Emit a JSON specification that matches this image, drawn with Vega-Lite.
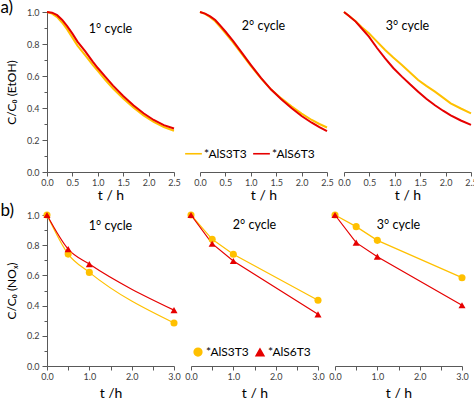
{
  "$schema": "https://vega.github.io/schema/vega-lite/v6.json",
  "padding": {"left": 0, "top": -1, "right": 0, "bottom": 0},
  "background": "white",
  "spacing": 0,
  "config": {
    "font": "Lato",
    "view": {"stroke": null},
    "axis": {
      "grid": false,
      "labelFont": "Lato",
      "labelFontSize": 9,
      "labelColor": "#404040",
      "titleFont": "Lato",
      "titleFontWeight": "normal",
      "titleColor": "#000000",
      "domainColor": "#595959",
      "tickColor": "#595959",
      "labelFlush": false,
      "labelOverlap": false
    },
    "title": {"font": "Lato", "fontWeight": "normal", "color": "#000000"},
    "legend": {"labelFont": "Lato", "labelFontSize": 12, "labelColor": "#000000"}
  },
  "datasets": {
    "etoh": [
      {"cycle": "1", "sample": "*AlS3T3", "t": 0, "c": 1.0},
      {"cycle": "1", "sample": "*AlS3T3", "t": 0.1, "c": 0.99},
      {"cycle": "1", "sample": "*AlS3T3", "t": 0.2, "c": 0.968},
      {"cycle": "1", "sample": "*AlS3T3", "t": 0.3, "c": 0.933},
      {"cycle": "1", "sample": "*AlS3T3", "t": 0.4, "c": 0.89},
      {"cycle": "1", "sample": "*AlS3T3", "t": 0.5, "c": 0.84},
      {"cycle": "1", "sample": "*AlS3T3", "t": 0.6, "c": 0.79},
      {"cycle": "1", "sample": "*AlS3T3", "t": 0.75, "c": 0.73},
      {"cycle": "1", "sample": "*AlS3T3", "t": 0.9, "c": 0.67},
      {"cycle": "1", "sample": "*AlS3T3", "t": 1.0, "c": 0.632},
      {"cycle": "1", "sample": "*AlS3T3", "t": 1.15, "c": 0.575},
      {"cycle": "1", "sample": "*AlS3T3", "t": 1.3, "c": 0.522},
      {"cycle": "1", "sample": "*AlS3T3", "t": 1.5, "c": 0.46},
      {"cycle": "1", "sample": "*AlS3T3", "t": 1.7, "c": 0.404},
      {"cycle": "1", "sample": "*AlS3T3", "t": 1.9, "c": 0.354},
      {"cycle": "1", "sample": "*AlS3T3", "t": 2.1, "c": 0.313},
      {"cycle": "1", "sample": "*AlS3T3", "t": 2.3, "c": 0.281},
      {"cycle": "1", "sample": "*AlS3T3", "t": 2.5, "c": 0.258},
      {"cycle": "1", "sample": "*AlS6T3", "t": 0, "c": 1.0},
      {"cycle": "1", "sample": "*AlS6T3", "t": 0.1, "c": 0.996},
      {"cycle": "1", "sample": "*AlS6T3", "t": 0.2, "c": 0.98},
      {"cycle": "1", "sample": "*AlS6T3", "t": 0.3, "c": 0.95},
      {"cycle": "1", "sample": "*AlS6T3", "t": 0.4, "c": 0.91},
      {"cycle": "1", "sample": "*AlS6T3", "t": 0.5, "c": 0.865},
      {"cycle": "1", "sample": "*AlS6T3", "t": 0.6, "c": 0.815},
      {"cycle": "1", "sample": "*AlS6T3", "t": 0.75, "c": 0.755},
      {"cycle": "1", "sample": "*AlS6T3", "t": 0.9, "c": 0.69},
      {"cycle": "1", "sample": "*AlS6T3", "t": 1.0, "c": 0.65},
      {"cycle": "1", "sample": "*AlS6T3", "t": 1.15, "c": 0.595},
      {"cycle": "1", "sample": "*AlS6T3", "t": 1.3, "c": 0.54},
      {"cycle": "1", "sample": "*AlS6T3", "t": 1.5, "c": 0.475},
      {"cycle": "1", "sample": "*AlS6T3", "t": 1.7, "c": 0.417},
      {"cycle": "1", "sample": "*AlS6T3", "t": 1.9, "c": 0.367},
      {"cycle": "1", "sample": "*AlS6T3", "t": 2.1, "c": 0.325},
      {"cycle": "1", "sample": "*AlS6T3", "t": 2.3, "c": 0.293},
      {"cycle": "1", "sample": "*AlS6T3", "t": 2.5, "c": 0.272},
      {"cycle": "2", "sample": "*AlS3T3", "t": 0, "c": 1.0},
      {"cycle": "2", "sample": "*AlS3T3", "t": 0.1, "c": 0.988},
      {"cycle": "2", "sample": "*AlS3T3", "t": 0.2, "c": 0.968},
      {"cycle": "2", "sample": "*AlS3T3", "t": 0.3, "c": 0.942},
      {"cycle": "2", "sample": "*AlS3T3", "t": 0.4, "c": 0.906},
      {"cycle": "2", "sample": "*AlS3T3", "t": 0.5, "c": 0.868},
      {"cycle": "2", "sample": "*AlS3T3", "t": 0.65, "c": 0.81},
      {"cycle": "2", "sample": "*AlS3T3", "t": 0.8, "c": 0.747},
      {"cycle": "2", "sample": "*AlS3T3", "t": 1.0, "c": 0.664},
      {"cycle": "2", "sample": "*AlS3T3", "t": 1.2, "c": 0.585},
      {"cycle": "2", "sample": "*AlS3T3", "t": 1.4, "c": 0.515},
      {"cycle": "2", "sample": "*AlS3T3", "t": 1.6, "c": 0.46},
      {"cycle": "2", "sample": "*AlS3T3", "t": 1.8, "c": 0.41},
      {"cycle": "2", "sample": "*AlS3T3", "t": 2.0, "c": 0.365},
      {"cycle": "2", "sample": "*AlS3T3", "t": 2.2, "c": 0.325},
      {"cycle": "2", "sample": "*AlS3T3", "t": 2.35, "c": 0.3},
      {"cycle": "2", "sample": "*AlS3T3", "t": 2.5, "c": 0.278},
      {"cycle": "2", "sample": "*AlS6T3", "t": 0, "c": 1.0},
      {"cycle": "2", "sample": "*AlS6T3", "t": 0.1, "c": 0.99},
      {"cycle": "2", "sample": "*AlS6T3", "t": 0.2, "c": 0.973},
      {"cycle": "2", "sample": "*AlS6T3", "t": 0.3, "c": 0.95},
      {"cycle": "2", "sample": "*AlS6T3", "t": 0.4, "c": 0.915},
      {"cycle": "2", "sample": "*AlS6T3", "t": 0.5, "c": 0.878},
      {"cycle": "2", "sample": "*AlS6T3", "t": 0.65, "c": 0.82},
      {"cycle": "2", "sample": "*AlS6T3", "t": 0.8, "c": 0.755},
      {"cycle": "2", "sample": "*AlS6T3", "t": 1.0, "c": 0.67},
      {"cycle": "2", "sample": "*AlS6T3", "t": 1.2, "c": 0.588},
      {"cycle": "2", "sample": "*AlS6T3", "t": 1.4, "c": 0.515},
      {"cycle": "2", "sample": "*AlS6T3", "t": 1.6, "c": 0.455},
      {"cycle": "2", "sample": "*AlS6T3", "t": 1.8, "c": 0.4},
      {"cycle": "2", "sample": "*AlS6T3", "t": 2.0, "c": 0.35},
      {"cycle": "2", "sample": "*AlS6T3", "t": 2.2, "c": 0.308},
      {"cycle": "2", "sample": "*AlS6T3", "t": 2.35, "c": 0.28},
      {"cycle": "2", "sample": "*AlS6T3", "t": 2.5, "c": 0.255},
      {"cycle": "3", "sample": "*AlS3T3", "t": 0, "c": 1.0},
      {"cycle": "3", "sample": "*AlS3T3", "t": 0.1, "c": 0.975},
      {"cycle": "3", "sample": "*AlS3T3", "t": 0.23, "c": 0.942},
      {"cycle": "3", "sample": "*AlS3T3", "t": 0.35, "c": 0.905},
      {"cycle": "3", "sample": "*AlS3T3", "t": 0.49, "c": 0.867},
      {"cycle": "3", "sample": "*AlS3T3", "t": 0.65, "c": 0.815},
      {"cycle": "3", "sample": "*AlS3T3", "t": 0.81, "c": 0.763},
      {"cycle": "3", "sample": "*AlS3T3", "t": 0.97, "c": 0.715},
      {"cycle": "3", "sample": "*AlS3T3", "t": 1.14, "c": 0.669},
      {"cycle": "3", "sample": "*AlS3T3", "t": 1.3, "c": 0.622},
      {"cycle": "3", "sample": "*AlS3T3", "t": 1.46, "c": 0.575},
      {"cycle": "3", "sample": "*AlS3T3", "t": 1.62, "c": 0.538},
      {"cycle": "3", "sample": "*AlS3T3", "t": 1.79, "c": 0.502},
      {"cycle": "3", "sample": "*AlS3T3", "t": 1.95, "c": 0.465},
      {"cycle": "3", "sample": "*AlS3T3", "t": 2.1, "c": 0.429},
      {"cycle": "3", "sample": "*AlS3T3", "t": 2.3, "c": 0.397},
      {"cycle": "3", "sample": "*AlS3T3", "t": 2.5, "c": 0.367},
      {"cycle": "3", "sample": "*AlS6T3", "t": 0, "c": 1.0},
      {"cycle": "3", "sample": "*AlS6T3", "t": 0.1, "c": 0.975},
      {"cycle": "3", "sample": "*AlS6T3", "t": 0.23, "c": 0.94},
      {"cycle": "3", "sample": "*AlS6T3", "t": 0.35, "c": 0.897},
      {"cycle": "3", "sample": "*AlS6T3", "t": 0.49, "c": 0.846},
      {"cycle": "3", "sample": "*AlS6T3", "t": 0.65, "c": 0.775},
      {"cycle": "3", "sample": "*AlS6T3", "t": 0.81, "c": 0.71},
      {"cycle": "3", "sample": "*AlS6T3", "t": 0.97, "c": 0.65},
      {"cycle": "3", "sample": "*AlS6T3", "t": 1.14, "c": 0.596},
      {"cycle": "3", "sample": "*AlS6T3", "t": 1.3, "c": 0.548},
      {"cycle": "3", "sample": "*AlS6T3", "t": 1.46, "c": 0.502},
      {"cycle": "3", "sample": "*AlS6T3", "t": 1.62, "c": 0.458},
      {"cycle": "3", "sample": "*AlS6T3", "t": 1.79, "c": 0.417},
      {"cycle": "3", "sample": "*AlS6T3", "t": 1.95, "c": 0.383},
      {"cycle": "3", "sample": "*AlS6T3", "t": 2.1, "c": 0.354},
      {"cycle": "3", "sample": "*AlS6T3", "t": 2.3, "c": 0.322},
      {"cycle": "3", "sample": "*AlS6T3", "t": 2.5, "c": 0.294}
    ],
    "nox": [
      {"cycle": "1", "sample": "*AlS3T3", "t": 0, "c": 1.0},
      {"cycle": "1", "sample": "*AlS3T3", "t": 0.5, "c": 0.741},
      {"cycle": "1", "sample": "*AlS3T3", "t": 1, "c": 0.62},
      {"cycle": "1", "sample": "*AlS3T3", "t": 3, "c": 0.285},
      {"cycle": "1", "sample": "*AlS6T3", "t": 0, "c": 1.0},
      {"cycle": "1", "sample": "*AlS6T3", "t": 0.5, "c": 0.774},
      {"cycle": "1", "sample": "*AlS6T3", "t": 1, "c": 0.675},
      {"cycle": "1", "sample": "*AlS6T3", "t": 3, "c": 0.37},
      {"cycle": "2", "sample": "*AlS3T3", "t": 0, "c": 1.0},
      {"cycle": "2", "sample": "*AlS3T3", "t": 0.5, "c": 0.839},
      {"cycle": "2", "sample": "*AlS3T3", "t": 1, "c": 0.74},
      {"cycle": "2", "sample": "*AlS3T3", "t": 3, "c": 0.435},
      {"cycle": "2", "sample": "*AlS6T3", "t": 0, "c": 1.0},
      {"cycle": "2", "sample": "*AlS6T3", "t": 0.5, "c": 0.81},
      {"cycle": "2", "sample": "*AlS6T3", "t": 1, "c": 0.695},
      {"cycle": "2", "sample": "*AlS6T3", "t": 3, "c": 0.342},
      {"cycle": "3", "sample": "*AlS3T3", "t": 0, "c": 1.0},
      {"cycle": "3", "sample": "*AlS3T3", "t": 0.5, "c": 0.923},
      {"cycle": "3", "sample": "*AlS3T3", "t": 1, "c": 0.832},
      {"cycle": "3", "sample": "*AlS3T3", "t": 3, "c": 0.585},
      {"cycle": "3", "sample": "*AlS6T3", "t": 0, "c": 1.0},
      {"cycle": "3", "sample": "*AlS6T3", "t": 0.5, "c": 0.817},
      {"cycle": "3", "sample": "*AlS6T3", "t": 1, "c": 0.724},
      {"cycle": "3", "sample": "*AlS6T3", "t": 3, "c": 0.402}
    ]
  },
  "resolve": {"legend": {"color": "independent", "shape": "independent"}},
  "vconcat": [
    {
      "title": {"text": "a)", "anchor": "start", "fontSize": 17, "baseline": "top", "offset": -9, "dx": -5},
      "spacing": 3,
      "resolve": {"legend": {"color": "independent"}},
      "hconcat": [
        {
          "width": 127, "height": 160,
          "title": {"text": "1° cycle", "fontSize": 12.5, "baseline": "top", "offset": -27},
          "data": {"name": "etoh"},
          "transform": [{"filter": "datum.cycle === '1'"}],
          "mark": {"type": "line", "strokeWidth": 2},
          "encoding": {
            "x": {"field": "t", "type": "quantitative", "scale": {"domain": [0, 2.5], "nice": false},
                  "axis": {"values": [0, 0.5, 1, 1.5, 2, 2.5], "format": ".1f", "title": "t / h", "titleFontSize": 14, "titlePadding": 1, "tickSize": 4, "labelPadding": 2}},
            "y": {"field": "c", "type": "quantitative", "scale": {"domain": [0, 1], "nice": false},
                  "axis": {"values": [0, 0.1, 0.2, 0.3, 0.4, 0.5, 0.6, 0.7, 0.8, 0.9, 1.0],
                           "labelExpr": "round(datum.value*10) % 2 === 0 ? format(datum.value, '.1f') : ''",
                           "tickSize": {"condition": {"test": "round(datum.value*10) % 2 === 0", "value": 5}, "value": 3},
                           "labelPadding": 3, "title": "C/C₀ (EtOH)", "titleFontSize": 12, "titlePadding": 8}},
            "color": {"field": "sample", "type": "nominal", "scale": {"domain": ["*AlS3T3", "*AlS6T3"], "range": ["#FFC000", "#E60000"]}, "legend": null}
          }
        },
        {
          "width": 127, "height": 160,
          "title": {"text": "2° cycle", "fontSize": 12.5, "baseline": "top", "offset": -24},
          "data": {"name": "etoh"},
          "transform": [{"filter": "datum.cycle === '2'"}],
          "mark": {"type": "line", "strokeWidth": 2},
          "encoding": {
            "x": {"field": "t", "type": "quantitative", "scale": {"domain": [0, 2.5], "nice": false},
                  "axis": {"values": [0, 0.5, 1, 1.5, 2, 2.5], "format": ".1f", "title": "t / h", "titleFontSize": 14, "titlePadding": 1, "tickSize": 4, "labelPadding": 2}},
            "y": {"field": "c", "type": "quantitative", "scale": {"domain": [0, 1], "nice": false}, "axis": null},
            "color": {"field": "sample", "type": "nominal", "scale": {"domain": ["*AlS3T3", "*AlS6T3"], "range": ["#FFC000", "#E60000"]},
                      "legend": {"title": null, "orient": "bottom-right", "direction": "horizontal", "offset": 12, "symbolType": "stroke", "symbolSize": 280, "symbolStrokeWidth": 1.6, "columnPadding": 2, "labelOffset": 1, "padding": 0}}
          }
        },
        {
          "width": 127, "height": 160,
          "title": {"text": "3° cycle", "fontSize": 12.5, "baseline": "top", "offset": -24},
          "data": {"name": "etoh"},
          "transform": [{"filter": "datum.cycle === '3'"}],
          "mark": {"type": "line", "strokeWidth": 2},
          "encoding": {
            "x": {"field": "t", "type": "quantitative", "scale": {"domain": [0, 2.5], "nice": false},
                  "axis": {"values": [0, 0.5, 1, 1.5, 2, 2.5], "format": ".1f", "title": "t / h", "titleFontSize": 14, "titlePadding": 1, "tickSize": 4, "labelPadding": 2}},
            "y": {"field": "c", "type": "quantitative", "scale": {"domain": [0, 1], "nice": false}, "axis": null},
            "color": {"field": "sample", "type": "nominal", "scale": {"domain": ["*AlS3T3", "*AlS6T3"], "range": ["#FFC000", "#E60000"]}, "legend": null}
          }
        }
      ]
    },
    {
      "title": {"text": "b)", "anchor": "start", "fontSize": 17, "baseline": "top", "offset": -9, "dx": -5},
      "spacing": 3,
      "resolve": {"legend": {"color": "independent", "shape": "independent"}},
      "hconcat": [
        {
          "width": 127, "height": 151,
          "title": {"text": "1° cycle", "fontSize": 12.5, "baseline": "top", "offset": -21},
          "data": {"name": "nox"},
          "transform": [{"filter": "datum.cycle === '1'"}],
          "encoding": {
            "x": {"field": "t", "type": "quantitative", "scale": {"domain": [0, 3], "nice": false},
                  "axis": {"values": [0, 0.5, 1, 1.5, 2, 2.5, 3], "labelExpr": "datum.value % 1 === 0 ? format(datum.value, '.1f') : ''", "title": "t /h", "titleFontSize": 14, "titlePadding": 5, "tickSize": 4, "labelPadding": 2}},
            "y": {"field": "c", "type": "quantitative", "scale": {"domain": [0, 1], "nice": false},
                  "axis": {"values": [0, 0.1, 0.2, 0.3, 0.4, 0.5, 0.6, 0.7, 0.8, 0.9, 1.0],
                           "labelExpr": "round(datum.value*10) % 2 === 0 ? format(datum.value, '.1f') : ''",
                           "tickSize": {"condition": {"test": "round(datum.value*10) % 2 === 0", "value": 5}, "value": 3},
                           "labelPadding": 3, "title": "C/C₀ (NOₓ)", "titleFontSize": 12, "titlePadding": 8}},
            "color": {"field": "sample", "type": "nominal", "scale": {"domain": ["*AlS3T3", "*AlS6T3"], "range": ["#FFC000", "#E60000"]}, "legend": null}
          },
          "layer": [
            {"mark": {"type": "line", "strokeWidth": 1.2, "interpolate": "monotone"}},
            {"mark": {"type": "point", "filled": true, "opacity": 1, "size": 50},
             "encoding": {"shape": {"field": "sample", "type": "nominal", "scale": {"domain": ["*AlS3T3", "*AlS6T3"], "range": ["circle", "triangle-up"]}, "legend": null}}}
          ]
        },
        {
          "width": 127, "height": 151,
          "title": {"text": "2° cycle", "fontSize": 12.5, "baseline": "top", "offset": -20},
          "data": {"name": "nox"},
          "transform": [{"filter": "datum.cycle === '2'"}],
          "mark": {"type": "line", "strokeWidth": 1.2, "point": {"filled": true, "opacity": 1, "size": 50}},
          "encoding": {
            "x": {"field": "t", "type": "quantitative", "scale": {"domain": [0, 3], "nice": false},
                  "axis": {"values": [0, 0.5, 1, 1.5, 2, 2.5, 3], "labelExpr": "datum.value % 1 === 0 ? format(datum.value, '.1f') : ''", "title": "t / h", "titleFontSize": 14, "titlePadding": 5, "tickSize": 4, "labelPadding": 2}},
            "y": {"field": "c", "type": "quantitative", "scale": {"domain": [0, 1], "nice": false}, "axis": null},
            "color": {"field": "sample", "type": "nominal", "scale": {"domain": ["*AlS3T3", "*AlS6T3"], "range": ["#FFC000", "#E60000"]},
              "legend": {"title": null, "orient": "bottom-right", "direction": "horizontal", "offset": 7, "symbolSize": 60, "columnPadding": 4, "labelOffset": 2, "padding": 0}},
            "shape": {"field": "sample", "type": "nominal", "scale": {"domain": ["*AlS3T3", "*AlS6T3"], "range": ["circle", "triangle-up"]},
              "legend": {"title": null, "orient": "bottom-right", "direction": "horizontal", "offset": 7, "symbolSize": 60, "columnPadding": 4, "labelOffset": 2, "padding": 0}}
          }
        },
        {
          "width": 127, "height": 151,
          "title": {"text": "3° cycle", "fontSize": 12.5, "baseline": "top", "offset": -20},
          "data": {"name": "nox"},
          "transform": [{"filter": "datum.cycle === '3'"}],
          "encoding": {
            "x": {"field": "t", "type": "quantitative", "scale": {"domain": [0, 3], "nice": false},
                  "axis": {"values": [0, 0.5, 1, 1.5, 2, 2.5, 3], "labelExpr": "datum.value % 1 === 0 ? format(datum.value, '.1f') : ''", "title": "t / h", "titleFontSize": 14, "titlePadding": 5, "tickSize": 4, "labelPadding": 2}},
            "y": {"field": "c", "type": "quantitative", "scale": {"domain": [0, 1], "nice": false}, "axis": null},
            "color": {"field": "sample", "type": "nominal", "scale": {"domain": ["*AlS3T3", "*AlS6T3"], "range": ["#FFC000", "#E60000"]}, "legend": null}
          },
          "layer": [
            {"mark": {"type": "line", "strokeWidth": 1.2}},
            {"mark": {"type": "point", "filled": true, "opacity": 1, "size": 50},
             "encoding": {"shape": {"field": "sample", "type": "nominal", "scale": {"domain": ["*AlS3T3", "*AlS6T3"], "range": ["circle", "triangle-up"]}, "legend": null}}}
          ]
        }
      ]
    }
  ]
}
